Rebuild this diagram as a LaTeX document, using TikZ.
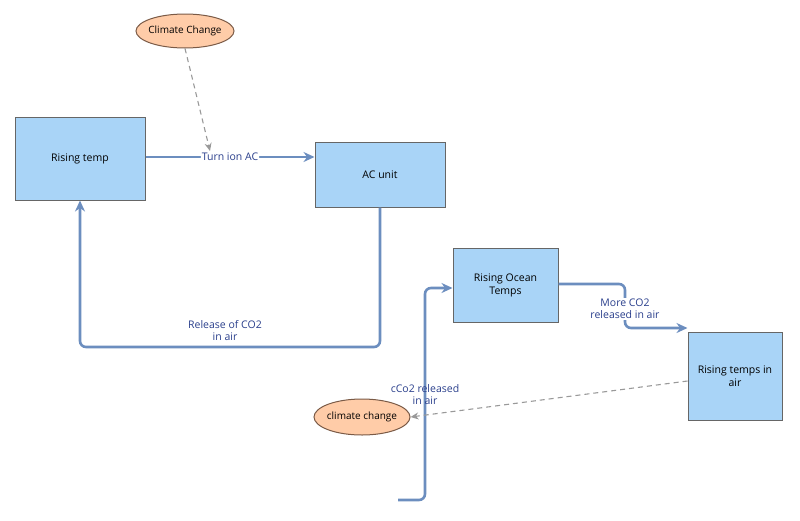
\documentclass[tikz,border=0pt]{standalone}
\usepackage{fontspec}
\setmainfont{Open Sans}
\usetikzlibrary{shapes.geometric,arrows.meta}
\definecolor{boxfill}{HTML}{A9D4F7}
\definecolor{boxdraw}{HTML}{666666}
\definecolor{peach}{HTML}{FFCCA8}
\definecolor{peachd}{HTML}{7A5A46}
\definecolor{link}{HTML}{6C8EBF}
\definecolor{lbl}{HTML}{2A3F8C}
\begin{document}
\begin{tikzpicture}[x=1pt,y=-1pt,
  box/.style={draw=boxdraw,fill=boxfill,line width=1pt,align=center,font=\fontsize{10.5}{13}\selectfont,inner sep=0pt},
  ell/.style={ellipse,draw=peachd,fill=peach,line width=1pt,font=\fontsize{10}{12}\selectfont,inner xsep=-6pt,inner ysep=0pt},
  conn/.style={draw=link,line width=2.6pt,rounded corners=6pt,-{Stealth[length=11pt,width=10pt]}},
  dashlink/.style={draw=gray!80,line width=1.1pt,dash pattern=on 5pt off 4pt,-{Stealth[length=8pt,width=7pt]}},
  lab/.style={fill=white,inner sep=1pt,align=center,text=lbl,font=\fontsize{10.5}{12}\selectfont}]
\useasboundingbox (0,0) rectangle (800,520);
\node[ell,minimum width=98pt,minimum height=34pt] (cc1) at (185,31) {Climate Change};
\node[box,minimum width=130pt,minimum height=83pt] (rt) at (80,158.5) {Rising temp};
\node[box,minimum width=130pt,minimum height=65pt] (ac) at (380,174.5) {AC unit};
\node[box,minimum width=105pt,minimum height=74pt] (rot) at (505.5,285) {Rising Ocean\\Temps};
\node[box,minimum width=94pt,minimum height=88pt] (rta) at (735,376) {Rising temps in\\air};
\node[ell,minimum width=96pt,minimum height=36pt] (cc2) at (362,417) {climate change};
\coordinate (s) at (398,500);
\coordinate (t1) at (210,151);
\draw[dashlink] (cc1.south) -- (t1);
\draw[conn] (rt.east |- 0,157) -- node[lab]{Turn ion AC} (ac.west |- 0,157);
\draw[conn] (ac.south) -- (380,347) -- (80,347) -- (rt.south);
\node[lab,fill=none] at (225,331) {Release of CO2\\in air};
\draw[conn] (s) -- (425,500) -- (425,288) -- (rot.west |- 0,288);
\draw[conn] (rot.east |- 0,284) -- (625,284) -- (625,328) -- (rta.west |- 0,328);
\node[lab] at (625,309) {More CO2\\released in air};
\draw[dashlink] (rta.west |- 0,381) -- (cc2.east);
\node[lab,fill=none] at (425,395) {cCo2 released\\in air};
\end{tikzpicture}
\end{document}
